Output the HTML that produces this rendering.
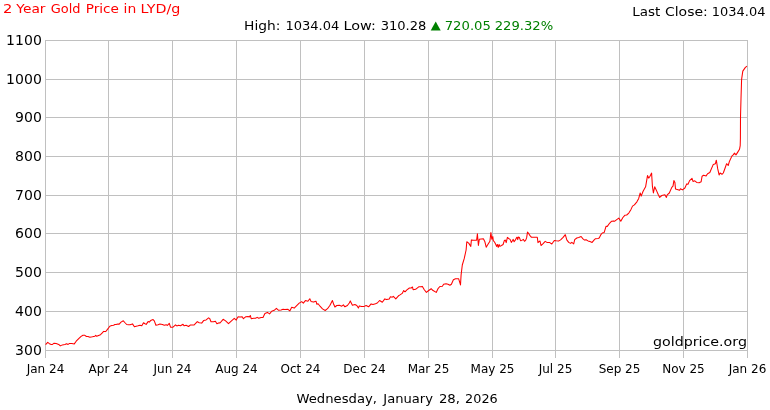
<!DOCTYPE html>
<html><head><meta charset="utf-8"><title>2 Year Gold Price in LYD/g</title>
<style>
html,body{margin:0;padding:0;background:#fff;}
svg{display:block;will-change:transform;}
text{font-family:"DejaVu Sans","Liberation Sans",sans-serif;fill:#000;}
.g{fill:#c0c0c0;shape-rendering:crispEdges;}
</style></head><body>
<svg width="770" height="410" viewBox="0 0 770 410">
<rect width="770" height="410" fill="#fff"/>

<rect class="g" x="45" y="40" width="1" height="318"/>
<rect class="g" x="108" y="40" width="1" height="318"/>
<rect class="g" x="172" y="40" width="1" height="318"/>
<rect class="g" x="236" y="40" width="1" height="318"/>
<rect class="g" x="300" y="40" width="1" height="318"/>
<rect class="g" x="364" y="40" width="1" height="318"/>
<rect class="g" x="428" y="40" width="1" height="318"/>
<rect class="g" x="492" y="40" width="1" height="318"/>
<rect class="g" x="555" y="40" width="1" height="318"/>
<rect class="g" x="619" y="40" width="1" height="318"/>
<rect class="g" x="683" y="40" width="1" height="318"/>
<rect class="g" x="747" y="40" width="1" height="318"/>
<rect class="g" x="45" y="40" width="703" height="1"/>
<rect class="g" x="45" y="79" width="703" height="1"/>
<rect class="g" x="45" y="117" width="703" height="1"/>
<rect class="g" x="45" y="156" width="703" height="1"/>
<rect class="g" x="45" y="195" width="703" height="1"/>
<rect class="g" x="45" y="233" width="703" height="1"/>
<rect class="g" x="45" y="272" width="703" height="1"/>
<rect class="g" x="45" y="311" width="703" height="1"/>
<rect class="g" x="45" y="350" width="703" height="1"/>
<polyline fill="none" stroke="#ff0000" stroke-width="1.05" stroke-linejoin="round" points="45.6,344.7 47.7,342.4 49.4,343.7 51.2,344.5 52.5,344.4 54.1,343.2 56.2,343.5 58.7,344.4 60.3,345.9 62.4,344.9 64.9,344.5 66.6,343.7 68.1,344.4 69.6,343.4 71.8,343.4 74.3,343.9 76.2,341.2 78.7,338.7 81.1,336.4 83.0,335.2 84.9,335.3 86.4,336.5 88.0,336.4 89.9,337.2 92.4,336.8 94.9,336.2 95.7,335.3 96.7,336.3 98.6,335.5 100.5,334.7 102.3,332.8 103.6,331.4 105.5,331.6 106.3,330.8 108.0,328.7 109.8,326.2 111.7,325.6 113.6,325.2 114.8,324.5 116.1,324.6 117.9,324.1 119.2,324.1 121.0,322.1 123.3,320.8 124.8,322.5 126.7,324.5 128.5,324.7 130.0,324.7 132.5,323.9 134.4,326.8 136.2,326.2 138.1,325.8 140.0,325.3 141.8,325.7 143.5,322.7 145.0,323.7 146.2,324.4 148.1,321.6 149.3,322.1 150.6,320.6 153.1,319.6 154.3,320.9 155.9,325.3 158.1,324.7 159.9,324.1 162.4,324.6 164.3,325.3 166.2,324.7 167.4,325.4 169.3,323.4 170.5,327.2 173.0,327.2 175.5,324.9 176.8,325.9 178.6,325.3 180.5,325.8 183.0,324.3 184.2,325.8 186.1,325.3 188.6,326.5 190.5,324.9 192.3,324.9 194.2,324.9 197.3,321.6 199.2,322.7 201.7,323.1 203.6,320.6 206.1,319.9 208.6,317.8 209.8,318.7 211.0,321.8 213.5,321.8 215.4,321.2 216.9,323.7 219.2,322.7 220.0,323.0 223.1,319.3 225.6,320.9 228.5,323.6 231.2,321.1 234.3,318.4 236.2,320.1 238.1,316.8 240.0,317.0 242.2,316.7 243.4,318.7 245.6,316.8 248.1,316.5 249.3,317.0 250.3,315.5 251.2,318.7 253.7,318.3 255.5,318.3 257.2,317.4 258.7,318.3 261.1,317.4 263.0,317.4 264.9,313.4 267.4,312.4 269.6,313.9 271.7,311.2 274.2,310.3 276.4,308.4 278.6,310.3 281.1,309.9 283.0,309.3 284.8,309.6 288.0,309.3 289.8,310.9 291.7,307.2 294.2,308.1 296.7,305.6 299.2,303.1 301.7,301.6 303.3,303.1 305.4,300.6 307.9,301.2 309.8,298.7 311.0,301.4 313.5,302.1 316.0,301.2 316.9,304.3 318.1,303.7 320.0,306.2 322.5,308.9 325.2,310.5 327.5,308.7 330.0,305.2 332.4,300.5 333.7,304.3 334.9,307.0 336.8,305.5 339.3,305.3 341.8,306.2 343.4,304.9 344.9,306.8 347.4,305.5 349.3,303.0 350.3,300.9 352.4,305.2 354.9,304.5 356.8,305.5 358.4,308.0 359.3,305.9 361.7,306.4 364.2,306.4 366.1,305.5 368.6,306.8 371.1,303.9 373.0,304.5 375.5,303.7 377.3,303.0 379.6,300.5 382.3,302.2 384.8,298.9 386.7,299.6 389.2,298.9 390.4,296.8 392.3,297.2 393.3,296.4 395.8,298.9 398.5,295.8 400.0,294.9 402.2,293.4 403.7,290.5 405.0,291.8 406.9,289.9 409.4,288.0 411.2,288.0 412.5,287.0 413.1,289.7 415.6,289.3 418.7,286.8 420.6,286.8 422.4,286.4 424.3,289.7 426.4,292.4 428.7,290.5 431.2,288.7 432.7,290.3 436.2,292.4 438.0,288.7 439.9,286.5 442.4,286.2 443.6,284.3 446.1,283.7 448.0,284.3 449.9,285.3 451.4,284.3 453.4,279.7 455.5,278.7 458.6,278.7 460.5,284.9 461.1,274.9 462.3,265.0 464.2,258.7 466.1,250.0 466.8,241.8 468.7,243.1 470.8,246.4 471.4,239.9 473.7,240.3 476.6,240.3 477.4,233.7 478.4,245.5 479.3,239.3 481.2,238.9 483.4,238.7 484.9,241.8 486.2,247.2 488.0,244.3 489.9,241.2 490.9,232.5 491.8,239.3 492.8,236.6 493.3,240.7 494.5,242.0 495.8,244.5 496.6,246.4 497.4,244.5 498.2,247.4 499.1,244.5 499.9,246.4 501.5,245.5 503.1,244.5 504.4,240.4 505.3,240.1 506.2,242.6 506.7,240.4 507.4,237.4 508.6,238.5 510.1,239.4 511.3,242.4 512.4,240.7 513.2,239.4 514.1,241.7 515.1,240.4 516.4,237.9 517.1,237.2 517.7,239.6 518.4,237.1 519.4,237.5 520.5,240.7 521.8,240.4 523.4,239.4 524.5,241.3 525.6,240.4 526.6,237.9 527.5,232.1 528.8,233.7 530.0,235.6 531.3,237.2 533.9,237.2 537.3,237.2 538.0,242.6 538.9,241.7 540.0,241.0 541.0,245.5 543.1,243.6 545.2,241.4 546.9,242.4 549.4,242.4 551.8,244.0 554.3,240.5 556.2,240.8 558.5,241.1 560.6,239.9 563.1,237.4 565.3,234.7 566.8,239.9 568.7,242.4 570.5,243.4 571.8,242.4 573.7,243.9 574.7,239.7 576.8,238.0 578.7,237.4 581.1,236.5 583.0,238.9 584.6,240.1 586.1,239.7 588.0,240.9 589.9,241.5 592.1,242.4 594.2,239.9 595.5,238.7 598.0,238.4 599.2,238.0 601.1,234.3 602.3,233.0 604.2,232.4 606.1,226.2 607.3,226.4 609.2,223.7 611.7,221.2 613.6,220.9 614.8,221.2 616.7,219.7 618.8,218.1 620.8,221.2 622.9,217.5 624.8,215.3 626.7,215.0 628.8,213.1 631.0,209.4 632.5,206.1 634.4,204.9 636.9,201.8 638.7,198.4 640.2,193.0 641.2,196.1 643.1,191.2 645.6,186.8 647.5,175.6 648.7,178.1 650.0,176.2 651.6,173.1 652.4,186.2 653.4,193.0 654.7,186.8 656.2,189.9 658.1,194.3 659.7,197.4 661.8,195.5 664.9,194.7 666.4,197.4 667.2,194.9 669.3,193.0 671.8,187.4 673.0,186.2 673.9,180.6 674.9,182.4 675.5,188.9 678.0,189.7 679.6,190.3 680.5,188.7 682.4,189.9 684.9,188.0 686.7,183.9 688.0,184.3 689.6,180.6 692.0,178.4 693.0,181.4 694.8,180.8 696.7,182.4 699.2,182.7 701.1,181.8 702.1,176.2 703.6,175.3 706.1,175.9 707.6,173.7 709.8,172.5 713.3,164.4 715.4,163.7 716.3,160.2 717.7,168.7 719.1,174.9 720.1,173.0 722.0,174.3 723.3,173.0 725.1,168.0 726.6,163.7 728.2,165.5 729.5,161.2 732.0,155.9 733.2,154.9 734.5,153.1 736.0,154.9 737.6,152.4 739.5,149.3 740.2,145.6 740.4,138.0 740.5,117.0 741.0,98.8 741.6,79.3 742.8,71.1 745.2,67.6 746.9,66.1"/>
<text y="13" font-size="12.35" style="fill:#ff0000"><tspan x="2.97" textLength="9.33" lengthAdjust="spacingAndGlyphs">2</tspan> <tspan x="16.34" textLength="29.18" lengthAdjust="spacingAndGlyphs">Year</tspan> <tspan x="50.70" textLength="29.79" lengthAdjust="spacingAndGlyphs">Gold</tspan> <tspan x="85.68" textLength="33.30" lengthAdjust="spacingAndGlyphs">Price</tspan> <tspan x="123.64" textLength="12.67" lengthAdjust="spacingAndGlyphs">in</tspan> <tspan x="140.64" textLength="39.65" lengthAdjust="spacingAndGlyphs">LYD/g</tspan></text>
<text y="30" font-size="12.35" style="fill:#000"><tspan x="244.10" textLength="36.34" lengthAdjust="spacingAndGlyphs">High:</tspan> <tspan x="285.42" textLength="53.85" lengthAdjust="spacingAndGlyphs">1034.04</tspan> <tspan x="343.53" textLength="32.41" lengthAdjust="spacingAndGlyphs">Low:</tspan> <tspan x="380.67" textLength="45.70" lengthAdjust="spacingAndGlyphs">310.28</tspan></text>
<text y="30" font-size="12.35" style="fill:#008000"><tspan x="444.71" textLength="46.19" lengthAdjust="spacingAndGlyphs">720.05</tspan> <tspan x="494.69" textLength="58.56" lengthAdjust="spacingAndGlyphs">229.32%</tspan></text>
<text y="16" font-size="12.35" style="fill:#000"><tspan x="632.16" textLength="28.08" lengthAdjust="spacingAndGlyphs">Last</tspan> <tspan x="664.93" textLength="42.84" lengthAdjust="spacingAndGlyphs">Close:</tspan> <tspan x="711.83" textLength="53.54" lengthAdjust="spacingAndGlyphs">1034.04</tspan></text>
<text y="403" font-size="12.35" style="fill:#000"><tspan x="296.50" textLength="80.50" lengthAdjust="spacingAndGlyphs">Wednesday,</tspan> <tspan x="383.32" textLength="49.67" lengthAdjust="spacingAndGlyphs">January</tspan> <tspan x="438.93" textLength="21.10" lengthAdjust="spacingAndGlyphs">28,</tspan> <tspan x="465.14" textLength="32.59" lengthAdjust="spacingAndGlyphs">2026</tspan></text>
<text y="346" font-size="13" style="fill:#000"><tspan x="652.96" textLength="94.00" lengthAdjust="spacingAndGlyphs">goldprice.org</tspan></text>
<polygon points="430.7,30.6 440.7,30.6 435.7,21.4" fill="#008000"/>
<text x="6" y="45" font-size="14" textLength="36" lengthAdjust="spacing">1100</text>
<text x="6" y="84" font-size="14" textLength="36" lengthAdjust="spacing">1000</text>
<text x="15" y="122" font-size="14" textLength="27" lengthAdjust="spacing">900</text>
<text x="15" y="161" font-size="14" textLength="27" lengthAdjust="spacing">800</text>
<text x="15" y="200" font-size="14" textLength="27" lengthAdjust="spacing">700</text>
<text x="15" y="238" font-size="14" textLength="27" lengthAdjust="spacing">600</text>
<text x="15" y="277" font-size="14" textLength="27" lengthAdjust="spacing">500</text>
<text x="15" y="316" font-size="14" textLength="27" lengthAdjust="spacing">400</text>
<text x="15" y="355" font-size="14" textLength="27" lengthAdjust="spacing">300</text>
<text x="45.5" y="373" font-size="12" text-anchor="middle">Jan 24</text>
<text x="108.5" y="373" font-size="12" text-anchor="middle">Apr 24</text>
<text x="172.5" y="373" font-size="12" text-anchor="middle">Jun 24</text>
<text x="236.5" y="373" font-size="12" text-anchor="middle">Aug 24</text>
<text x="300.5" y="373" font-size="12" text-anchor="middle">Oct 24</text>
<text x="364.5" y="373" font-size="12" text-anchor="middle">Dec 24</text>
<text x="428.5" y="373" font-size="12" text-anchor="middle">Mar 25</text>
<text x="492.5" y="373" font-size="12" text-anchor="middle">May 25</text>
<text x="555.5" y="373" font-size="12" text-anchor="middle">Jul 25</text>
<text x="619.5" y="373" font-size="12" text-anchor="middle">Sep 25</text>
<text x="683.5" y="373" font-size="12" text-anchor="middle">Nov 25</text>
<text x="747.5" y="373" font-size="12" text-anchor="middle">Jan 26</text>
</svg></body></html>
